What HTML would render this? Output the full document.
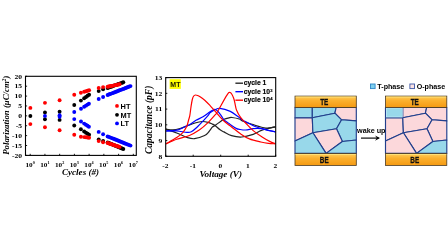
<!DOCTYPE html><html><head><meta charset="utf-8"><title>figure</title><style>html,body{margin:0;padding:0;background:#fff}svg{display:block;filter:blur(0.3px)}</style></head><body><svg width="448" height="252" viewBox="0 0 448 252">
<rect width="448" height="252" fill="#fff"/>
<defs><linearGradient id="og" x1="0" y1="0" x2="0" y2="1"><stop offset="0" stop-color="#ffcf5c"/><stop offset="0.4" stop-color="#fbb02e"/><stop offset="1" stop-color="#f59a12"/></linearGradient></defs>
<g id="p1">
<circle cx="30.35" cy="116.00" r="1.95" fill="#000"/><circle cx="44.95" cy="112.40" r="1.95" fill="#000"/><circle cx="59.60" cy="111.70" r="1.95" fill="#000"/><circle cx="74.25" cy="105.00" r="1.95" fill="#000"/><circle cx="80.90" cy="100.60" r="1.95" fill="#000"/><circle cx="84.18" cy="98.24" r="1.95" fill="#000"/><circle cx="85.98" cy="96.94" r="1.95" fill="#000"/><circle cx="87.62" cy="95.76" r="1.95" fill="#000"/><circle cx="89.10" cy="94.70" r="1.95" fill="#000"/><circle cx="98.70" cy="91.10" r="1.95" fill="#000"/><circle cx="103.10" cy="89.20" r="1.95" fill="#000"/><circle cx="107.60" cy="88.00" r="1.95" fill="#000"/><circle cx="108.81" cy="87.56" r="1.95" fill="#000"/><circle cx="110.02" cy="87.12" r="1.95" fill="#000"/><circle cx="111.22" cy="86.68" r="1.95" fill="#000"/><circle cx="112.43" cy="86.25" r="1.95" fill="#000"/><circle cx="113.64" cy="85.81" r="1.95" fill="#000"/><circle cx="114.85" cy="85.37" r="1.95" fill="#000"/><circle cx="116.05" cy="84.93" r="1.95" fill="#000"/><circle cx="117.26" cy="84.49" r="1.95" fill="#000"/><circle cx="118.47" cy="84.05" r="1.95" fill="#000"/><circle cx="119.68" cy="83.62" r="1.95" fill="#000"/><circle cx="120.88" cy="83.18" r="1.95" fill="#000"/><circle cx="122.09" cy="82.74" r="1.95" fill="#000"/><circle cx="123.30" cy="82.30" r="1.95" fill="#000"/><circle cx="44.95" cy="119.30" r="1.95" fill="#000"/><circle cx="59.60" cy="119.90" r="1.95" fill="#000"/><circle cx="74.25" cy="125.50" r="1.95" fill="#000"/><circle cx="80.90" cy="129.30" r="1.95" fill="#000"/><circle cx="84.18" cy="131.50" r="1.95" fill="#000"/><circle cx="85.98" cy="132.71" r="1.95" fill="#000"/><circle cx="87.62" cy="133.81" r="1.95" fill="#000"/><circle cx="89.10" cy="134.80" r="1.95" fill="#000"/><circle cx="98.70" cy="139.50" r="1.95" fill="#000"/><circle cx="103.10" cy="141.00" r="1.95" fill="#000"/><circle cx="107.60" cy="142.50" r="1.95" fill="#000"/><circle cx="108.81" cy="143.00" r="1.95" fill="#000"/><circle cx="110.02" cy="143.50" r="1.95" fill="#000"/><circle cx="111.22" cy="144.00" r="1.95" fill="#000"/><circle cx="112.43" cy="144.50" r="1.95" fill="#000"/><circle cx="113.64" cy="145.00" r="1.95" fill="#000"/><circle cx="114.85" cy="145.50" r="1.95" fill="#000"/><circle cx="116.05" cy="146.00" r="1.95" fill="#000"/><circle cx="117.26" cy="146.50" r="1.95" fill="#000"/><circle cx="118.47" cy="147.00" r="1.95" fill="#000"/><circle cx="119.68" cy="147.50" r="1.95" fill="#000"/><circle cx="120.88" cy="148.00" r="1.95" fill="#000"/><circle cx="122.09" cy="148.50" r="1.95" fill="#000"/><circle cx="123.30" cy="149.00" r="1.95" fill="#000"/>
<circle cx="30.35" cy="107.90" r="1.95" fill="#f00"/><circle cx="44.95" cy="102.85" r="1.95" fill="#f00"/><circle cx="59.60" cy="100.20" r="1.95" fill="#f00"/><circle cx="74.25" cy="94.70" r="1.95" fill="#f00"/><circle cx="80.90" cy="92.70" r="1.95" fill="#f00"/><circle cx="84.18" cy="91.74" r="1.95" fill="#f00"/><circle cx="85.98" cy="91.21" r="1.95" fill="#f00"/><circle cx="87.62" cy="90.73" r="1.95" fill="#f00"/><circle cx="89.10" cy="90.30" r="1.95" fill="#f00"/><circle cx="98.70" cy="88.00" r="1.95" fill="#f00"/><circle cx="103.10" cy="87.10" r="1.95" fill="#f00"/><circle cx="107.60" cy="86.70" r="1.95" fill="#f00"/><circle cx="108.69" cy="86.48" r="1.95" fill="#f00"/><circle cx="109.78" cy="86.26" r="1.95" fill="#f00"/><circle cx="110.87" cy="86.05" r="1.95" fill="#f00"/><circle cx="111.96" cy="85.83" r="1.95" fill="#f00"/><circle cx="113.05" cy="85.61" r="1.95" fill="#f00"/><circle cx="114.15" cy="85.39" r="1.95" fill="#f00"/><circle cx="115.24" cy="85.17" r="1.95" fill="#f00"/><circle cx="116.33" cy="84.95" r="1.95" fill="#f00"/><circle cx="117.42" cy="84.74" r="1.95" fill="#f00"/><circle cx="118.51" cy="84.52" r="1.95" fill="#f00"/><circle cx="119.60" cy="84.30" r="1.95" fill="#f00"/><circle cx="30.35" cy="124.10" r="1.95" fill="#f00"/><circle cx="44.95" cy="127.30" r="1.95" fill="#f00"/><circle cx="59.60" cy="130.20" r="1.95" fill="#f00"/><circle cx="74.25" cy="134.80" r="1.95" fill="#f00"/><circle cx="80.90" cy="136.70" r="1.95" fill="#f00"/><circle cx="84.18" cy="137.10" r="1.95" fill="#f00"/><circle cx="85.98" cy="137.32" r="1.95" fill="#f00"/><circle cx="87.62" cy="137.52" r="1.95" fill="#f00"/><circle cx="89.10" cy="137.70" r="1.95" fill="#f00"/><circle cx="98.70" cy="141.10" r="1.95" fill="#f00"/><circle cx="103.10" cy="142.20" r="1.95" fill="#f00"/><circle cx="107.60" cy="143.00" r="1.95" fill="#f00"/><circle cx="108.69" cy="143.35" r="1.95" fill="#f00"/><circle cx="109.78" cy="143.71" r="1.95" fill="#f00"/><circle cx="110.87" cy="144.06" r="1.95" fill="#f00"/><circle cx="111.96" cy="144.42" r="1.95" fill="#f00"/><circle cx="113.05" cy="144.77" r="1.95" fill="#f00"/><circle cx="114.15" cy="145.13" r="1.95" fill="#f00"/><circle cx="115.24" cy="145.48" r="1.95" fill="#f00"/><circle cx="116.33" cy="145.84" r="1.95" fill="#f00"/><circle cx="117.42" cy="146.19" r="1.95" fill="#f00"/><circle cx="118.51" cy="146.55" r="1.95" fill="#f00"/><circle cx="119.60" cy="146.90" r="1.95" fill="#f00"/>
<circle cx="44.95" cy="115.90" r="1.95" fill="#00f"/><circle cx="59.60" cy="115.20" r="1.95" fill="#00f"/><circle cx="59.60" cy="116.80" r="1.95" fill="#00f"/><circle cx="74.25" cy="112.00" r="1.95" fill="#00f"/><circle cx="74.25" cy="119.10" r="1.95" fill="#00f"/><circle cx="81.00" cy="108.80" r="1.95" fill="#00f"/><circle cx="84.16" cy="106.76" r="1.95" fill="#00f"/><circle cx="85.90" cy="105.64" r="1.95" fill="#00f"/><circle cx="87.48" cy="104.62" r="1.95" fill="#00f"/><circle cx="88.90" cy="103.70" r="1.95" fill="#00f"/><circle cx="81.00" cy="121.50" r="1.95" fill="#00f"/><circle cx="84.16" cy="123.58" r="1.95" fill="#00f"/><circle cx="85.90" cy="124.72" r="1.95" fill="#00f"/><circle cx="87.48" cy="125.76" r="1.95" fill="#00f"/><circle cx="88.90" cy="126.70" r="1.95" fill="#00f"/><circle cx="98.70" cy="99.00" r="1.95" fill="#00f"/><circle cx="103.10" cy="97.00" r="1.95" fill="#00f"/><circle cx="107.60" cy="95.00" r="1.95" fill="#00f"/><circle cx="108.81" cy="94.53" r="1.95" fill="#00f"/><circle cx="110.01" cy="94.06" r="1.95" fill="#00f"/><circle cx="111.22" cy="93.59" r="1.95" fill="#00f"/><circle cx="112.42" cy="93.13" r="1.95" fill="#00f"/><circle cx="113.63" cy="92.66" r="1.95" fill="#00f"/><circle cx="114.83" cy="92.19" r="1.95" fill="#00f"/><circle cx="116.04" cy="91.72" r="1.95" fill="#00f"/><circle cx="117.24" cy="91.25" r="1.95" fill="#00f"/><circle cx="118.45" cy="90.78" r="1.95" fill="#00f"/><circle cx="119.65" cy="90.32" r="1.95" fill="#00f"/><circle cx="120.86" cy="89.85" r="1.95" fill="#00f"/><circle cx="122.06" cy="89.38" r="1.95" fill="#00f"/><circle cx="123.27" cy="88.91" r="1.95" fill="#00f"/><circle cx="124.47" cy="88.44" r="1.95" fill="#00f"/><circle cx="125.68" cy="87.97" r="1.95" fill="#00f"/><circle cx="126.88" cy="87.51" r="1.95" fill="#00f"/><circle cx="128.09" cy="87.04" r="1.95" fill="#00f"/><circle cx="129.29" cy="86.57" r="1.95" fill="#00f"/><circle cx="130.50" cy="86.10" r="1.95" fill="#00f"/><circle cx="98.70" cy="131.90" r="1.95" fill="#00f"/><circle cx="103.10" cy="134.20" r="1.95" fill="#00f"/><circle cx="107.60" cy="136.40" r="1.95" fill="#00f"/><circle cx="108.81" cy="136.88" r="1.95" fill="#00f"/><circle cx="110.01" cy="137.37" r="1.95" fill="#00f"/><circle cx="111.22" cy="137.85" r="1.95" fill="#00f"/><circle cx="112.42" cy="138.34" r="1.95" fill="#00f"/><circle cx="113.63" cy="138.82" r="1.95" fill="#00f"/><circle cx="114.83" cy="139.31" r="1.95" fill="#00f"/><circle cx="116.04" cy="139.79" r="1.95" fill="#00f"/><circle cx="117.24" cy="140.27" r="1.95" fill="#00f"/><circle cx="118.45" cy="140.76" r="1.95" fill="#00f"/><circle cx="119.65" cy="141.24" r="1.95" fill="#00f"/><circle cx="120.86" cy="141.73" r="1.95" fill="#00f"/><circle cx="122.06" cy="142.21" r="1.95" fill="#00f"/><circle cx="123.27" cy="142.69" r="1.95" fill="#00f"/><circle cx="124.47" cy="143.18" r="1.95" fill="#00f"/><circle cx="125.68" cy="143.66" r="1.95" fill="#00f"/><circle cx="126.88" cy="144.15" r="1.95" fill="#00f"/><circle cx="128.09" cy="144.63" r="1.95" fill="#00f"/><circle cx="129.29" cy="145.12" r="1.95" fill="#00f"/><circle cx="130.50" cy="145.60" r="1.95" fill="#00f"/>
<rect x="25.5" y="76.3" width="110.80000000000001" height="79.10000000000001" fill="none" stroke="#000" stroke-width="1.1"/>
<path d="M25.5 76.30h1.6M25.5 86.19h1.6M25.5 96.08h1.6M25.5 105.96h1.6M25.5 115.85h1.6M25.5 125.74h1.6M25.5 135.62h1.6M25.5 145.51h1.6M25.5 155.40h1.6M30.20 155.4v-1.6M44.93 155.4v-1.6M59.66 155.4v-1.6M74.39 155.4v-1.6M89.12 155.4v-1.6M103.85 155.4v-1.6M118.58 155.4v-1.6M133.31 155.4v-1.6" stroke="#000" stroke-width="0.9" fill="none"/>
<g font-family="'Liberation Serif', serif" font-weight="bold" font-size="6.9" text-anchor="end" fill="#000">
<text transform="translate(22.1,78.55) scale(1.1,1)">20</text>
<text transform="translate(22.1,88.44) scale(1.1,1)">15</text>
<text transform="translate(22.1,98.33) scale(1.1,1)">10</text>
<text transform="translate(22.1,108.21) scale(1.1,1)">5</text>
<text transform="translate(22.1,118.10) scale(1.1,1)">0</text>
<text transform="translate(22.1,127.99) scale(1.1,1)">-5</text>
<text transform="translate(22.1,137.88) scale(1.1,1)">-10</text>
<text transform="translate(22.1,147.76) scale(1.1,1)">-15</text>
<text transform="translate(22.1,157.65) scale(1.1,1)">-20</text>
</g>
<g font-family="'Liberation Serif', serif" font-weight="bold" font-size="6.6" text-anchor="middle" fill="#000">
<text transform="translate(30.10,166.7) scale(1.1,1)">10<tspan dy="-2.9" font-size="3.8">0</tspan></text>
<text transform="translate(44.83,166.7) scale(1.1,1)">10<tspan dy="-2.9" font-size="3.8">1</tspan></text>
<text transform="translate(59.56,166.7) scale(1.1,1)">10<tspan dy="-2.9" font-size="3.8">2</tspan></text>
<text transform="translate(74.29,166.7) scale(1.1,1)">10<tspan dy="-2.9" font-size="3.8">3</tspan></text>
<text transform="translate(89.02,166.7) scale(1.1,1)">10<tspan dy="-2.9" font-size="3.8">4</tspan></text>
<text transform="translate(103.75,166.7) scale(1.1,1)">10<tspan dy="-2.9" font-size="3.8">5</tspan></text>
<text transform="translate(118.48,166.7) scale(1.1,1)">10<tspan dy="-2.9" font-size="3.8">6</tspan></text>
<text transform="translate(133.21,166.7) scale(1.1,1)">10<tspan dy="-2.9" font-size="3.8">7</tspan></text>
</g>
<text transform="translate(9.0,115.2) rotate(-90)" font-family="'Liberation Serif', serif" font-weight="bold" font-style="italic" font-size="8.8" text-anchor="middle">Polarization (μC/cm<tspan dy="-2.8" font-size="5.4">2</tspan><tspan dy="2.8">)</tspan></text>
<text x="80.5" y="175" font-family="'Liberation Serif', serif" font-weight="bold" font-style="italic" font-size="9.1" text-anchor="middle">Cycles (#)</text>
<g font-family="'Liberation Sans', sans-serif" font-weight="bold" font-size="7.4" fill="#000">
<circle cx="117" cy="105.9" r="1.9" fill="#f00"/><text x="120.6" y="108.85">HT</text>
<circle cx="117" cy="114.8" r="1.9" fill="#000"/><text x="120.6" y="117.75">MT</text>
<circle cx="117" cy="123.4" r="1.9" fill="#00f"/><text x="120.6" y="126.35">LT</text>
</g>
</g>
<g id="p2">
<clipPath id="c2"><rect x="165.7" y="77.6" width="110.0" height="78.70000000000002"/></clipPath>
<g clip-path="url(#c2)" fill="none" stroke-width="1.2" stroke-linejoin="round">
<path d="M165.70 129.10C166.90 129.22 170.52 129.90 172.90 129.80C175.28 129.70 177.67 129.13 180.00 128.50C182.33 127.87 184.40 126.92 186.90 126.00C189.40 125.08 192.47 123.75 195.00 123.00C197.53 122.25 199.93 121.62 202.10 121.50C204.27 121.38 206.27 121.87 208.00 122.30C209.73 122.73 211.37 123.60 212.50 124.10C213.63 124.60 213.53 124.35 214.80 125.30C216.07 126.25 218.57 128.70 220.10 129.80C221.63 130.90 222.08 130.92 224.00 131.90C225.92 132.88 228.63 134.85 231.60 135.70C234.57 136.55 238.20 137.22 241.80 137.00C245.40 136.78 250.03 135.47 253.20 134.40C256.37 133.33 258.27 131.60 260.80 130.60C263.33 129.60 265.95 129.03 268.40 128.40C270.85 127.77 274.32 127.07 275.50 126.80" stroke="#222"/>
<path d="M165.70 129.10C167.53 129.75 173.17 131.62 176.70 133.00C180.23 134.38 183.93 136.45 186.90 137.40C189.87 138.35 191.55 139.02 194.50 138.70C197.45 138.38 202.23 136.62 204.60 135.50C206.97 134.38 207.42 133.38 208.70 132.00C209.98 130.62 211.25 128.30 212.30 127.20C213.35 126.10 213.62 126.35 215.00 125.40C216.38 124.45 219.10 122.53 220.60 121.50C222.10 120.47 222.60 119.82 224.00 119.20C225.40 118.58 227.67 118.08 229.00 117.80C230.33 117.52 230.30 117.30 232.00 117.50C233.70 117.70 237.37 118.38 239.20 119.00C241.03 119.62 240.87 120.32 243.00 121.20C245.13 122.08 248.18 123.15 252.00 124.30C255.82 125.45 261.98 127.68 265.90 128.10C269.82 128.52 273.90 127.02 275.50 126.80" stroke="#222"/>
<path d="M165.70 131.00C167.53 130.87 173.58 130.87 176.70 130.20C179.82 129.53 182.28 127.92 184.40 127.00C186.52 126.08 187.47 125.82 189.40 124.70C191.33 123.58 193.73 121.62 196.00 120.30C198.27 118.98 200.72 118.18 203.00 116.80C205.28 115.42 208.12 113.10 209.70 112.00C211.28 110.90 211.62 110.62 212.50 110.20C213.38 109.78 214.08 109.28 215.00 109.50C215.92 109.72 216.93 110.43 218.00 111.50C219.07 112.57 220.40 114.52 221.40 115.90C222.40 117.28 222.73 118.53 224.00 119.80C225.27 121.07 227.73 122.55 229.00 123.50C230.27 124.45 230.33 124.65 231.60 125.50C232.87 126.35 235.33 127.97 236.60 128.60C237.87 129.23 237.70 129.07 239.20 129.30C240.70 129.53 243.27 130.10 245.60 130.00C247.93 129.90 250.67 128.92 253.20 128.70C255.73 128.48 258.33 128.43 260.80 128.70C263.27 128.97 265.55 129.77 268.00 130.30C270.45 130.83 274.25 131.63 275.50 131.90" stroke="#00f"/>
<path d="M165.70 131.00C167.53 131.00 173.17 130.78 176.70 131.00C180.23 131.22 184.47 132.18 186.90 132.30C189.33 132.42 189.62 132.55 191.30 131.70C192.98 130.85 194.78 129.27 197.00 127.20C199.22 125.13 202.70 121.30 204.60 119.30C206.50 117.30 207.50 116.28 208.40 115.20C209.30 114.12 208.90 113.70 210.00 112.80C211.10 111.90 213.33 110.55 215.00 109.80C216.67 109.05 217.45 108.03 220.00 108.30C222.55 108.57 227.32 110.03 230.30 111.40C233.28 112.77 235.78 115.00 237.90 116.50C240.02 118.00 241.52 119.45 243.00 120.40C244.48 121.35 244.68 121.13 246.80 122.20C248.92 123.27 252.30 125.50 255.70 126.80C259.10 128.10 263.90 129.15 267.20 130.00C270.50 130.85 274.12 131.58 275.50 131.90" stroke="#00f"/>
<path d="M165.70 144.00C167.53 142.93 173.82 139.55 176.70 137.60C179.58 135.65 181.30 134.23 183.00 132.30C184.70 130.37 185.97 128.05 186.90 126.00C187.83 123.95 188.12 121.72 188.60 120.00C189.08 118.28 189.40 117.88 189.80 115.70C190.20 113.52 190.58 109.60 191.00 106.90C191.42 104.20 191.85 101.32 192.30 99.50C192.75 97.68 193.17 96.75 193.70 96.00C194.23 95.25 194.85 95.08 195.50 95.00C196.15 94.92 196.85 95.20 197.60 95.50C198.35 95.80 198.77 95.97 200.00 96.80C201.23 97.63 203.32 99.03 205.00 100.50C206.68 101.97 208.40 103.80 210.10 105.60C211.80 107.40 212.90 108.73 215.20 111.30C217.50 113.87 221.17 118.40 223.90 121.00C226.63 123.60 228.83 124.77 231.60 126.90C234.37 129.03 237.53 131.80 240.50 133.80C243.47 135.80 246.02 137.53 249.40 138.90C252.78 140.27 257.63 141.27 260.80 142.00C263.97 142.73 265.95 143.00 268.40 143.30C270.85 143.60 274.32 143.72 275.50 143.80" stroke="#f00"/>
<path d="M165.70 144.00C167.53 143.22 172.75 140.72 176.70 139.30C180.65 137.88 185.58 137.08 189.40 135.50C193.22 133.92 196.63 131.82 199.60 129.80C202.57 127.78 204.67 125.83 207.20 123.40C209.73 120.97 213.12 117.10 214.80 115.20C216.48 113.30 215.30 115.30 217.30 112.00C219.30 108.70 224.65 98.65 226.80 95.40C228.95 92.15 229.07 92.07 230.20 92.50C231.33 92.93 232.73 95.82 233.60 98.00C234.47 100.18 234.90 103.57 235.40 105.60C235.90 107.63 235.77 108.27 236.60 110.20C237.43 112.13 238.90 115.07 240.40 117.20C241.90 119.33 243.47 120.77 245.60 123.00C247.73 125.23 250.45 128.27 253.20 130.60C255.95 132.93 259.35 135.20 262.10 137.00C264.85 138.80 267.47 140.27 269.70 141.40C271.93 142.53 274.53 143.40 275.50 143.80" stroke="#f00"/>
</g>
<rect x="165.7" y="77.6" width="110.0" height="78.70000000000002" fill="none" stroke="#000" stroke-width="1.1"/>
<path d="M165.7 77.60h1.6M165.7 93.34h1.6M165.7 109.08h1.6M165.7 124.82h1.6M165.7 140.56h1.6M165.7 156.30h1.6M165.70 156.3v-1.6M193.20 156.3v-1.6M220.70 156.3v-1.6M248.20 156.3v-1.6M275.70 156.3v-1.6" stroke="#000" stroke-width="0.9" fill="none"/>
<g font-family="'Liberation Serif', serif" font-weight="bold" font-size="7.1" text-anchor="end" fill="#000">
<text transform="translate(162.2,79.80) scale(1.06,1)">13</text>
<text transform="translate(162.2,95.54) scale(1.06,1)">12</text>
<text transform="translate(162.2,111.28) scale(1.06,1)">11</text>
<text transform="translate(162.2,127.02) scale(1.06,1)">10</text>
<text transform="translate(162.2,142.76) scale(1.06,1)">9</text>
<text transform="translate(162.2,158.50) scale(1.06,1)">8</text>
</g>
<g font-family="'Liberation Serif', serif" font-weight="bold" font-size="7.0" text-anchor="middle" fill="#000">
<text transform="translate(165.40,167.8) scale(1.06,1)">-2</text>
<text transform="translate(192.90,167.8) scale(1.06,1)">-1</text>
<text transform="translate(220.40,167.8) scale(1.06,1)">0</text>
<text transform="translate(247.90,167.8) scale(1.06,1)">1</text>
<text transform="translate(275.40,167.8) scale(1.06,1)">2</text>
</g>
<text transform="translate(152.1,119.8) rotate(-90)" font-family="'Liberation Serif', serif" font-weight="bold" font-style="italic" font-size="9.5" text-anchor="middle">Capacitance (pF)</text>
<text x="220.7" y="176.8" font-family="'Liberation Serif', serif" font-weight="bold" font-style="italic" font-size="9.2" text-anchor="middle">Voltage (V)</text>
<rect x="169.6" y="79.2" width="11.2" height="9.7" fill="#ffff00"/>
<text x="175.4" y="87.2" font-family="'Liberation Sans', sans-serif" font-weight="bold" font-size="7.0" text-anchor="middle" fill="#1a1a00">MT</text>
<g font-family="'Liberation Sans', sans-serif" font-weight="bold" font-size="6.8" fill="#000">
<path d="M235.4 83.2H243" stroke="#222" stroke-width="1.35"/><text x="243.7" y="85.40" stroke="#000" stroke-width="0.15">cycle 1</text>
<path d="M235.4 91.7H243" stroke="#00f" stroke-width="1.35"/><text x="243.7" y="93.90" stroke="#000" stroke-width="0.15">cycle 10<tspan dy="-2.3" font-size="4.1">3</tspan></text>
<path d="M235.4 100.2H243" stroke="#f00" stroke-width="1.35"/><text x="243.7" y="102.40" stroke="#000" stroke-width="0.15">cycle 10<tspan dy="-2.3" font-size="4.1">4</tspan></text>
</g>
</g>
<g id="p3">
<g transform="translate(0,0)"><polygon points="295.0,107.4 312.3,107.4 312.3,117.8 295.0,117.8" fill="#98d8ea" stroke="#213f8c" stroke-width="1.15" stroke-linejoin="round"/><polygon points="312.3,107.4 336.2,107.4 334.9,113.2 312.3,117.8" fill="#98d8ea" stroke="#213f8c" stroke-width="1.15" stroke-linejoin="round"/><polygon points="336.2,107.4 356.3,107.4 356.3,120.9 341.6,119.8 334.9,113.2" fill="#fcd8db" stroke="#213f8c" stroke-width="1.15" stroke-linejoin="round"/><polygon points="295.0,117.8 312.3,117.8 312.9,132.8 295.0,141.1" fill="#fcd8db" stroke="#213f8c" stroke-width="1.15" stroke-linejoin="round"/><polygon points="312.3,117.8 334.9,113.2 341.6,119.8 336.5,128.8 312.9,132.8" fill="#98d8ea" stroke="#213f8c" stroke-width="1.15" stroke-linejoin="round"/><polygon points="341.6,119.8 356.3,120.9 356.3,140.0 342.4,141.5 336.5,128.8" fill="#98d8ea" stroke="#213f8c" stroke-width="1.15" stroke-linejoin="round"/><polygon points="312.9,132.8 336.5,128.8 342.4,141.5 326.1,153.4" fill="#fcd8db" stroke="#213f8c" stroke-width="1.15" stroke-linejoin="round"/><polygon points="295.0,141.1 312.9,132.8 326.1,153.4 295.0,153.4" fill="#98d8ea" stroke="#213f8c" stroke-width="1.15" stroke-linejoin="round"/><polygon points="326.1,153.4 342.4,141.5 356.3,140.0 356.3,153.4" fill="#98d8ea" stroke="#213f8c" stroke-width="1.15" stroke-linejoin="round"/><rect x="295.0" y="96.1" width="61.30000000000001" height="11.300000000000011" fill="url(#og)" stroke="#4b3a22" stroke-width="0.8"/><path d="M295.6 97.0H355.7" stroke="#ffe27a" stroke-width="0.9" fill="none"/><text transform="translate(324.25,104.75) scale(0.78,1)" font-family="'Liberation Sans', sans-serif" font-weight="bold" font-size="8.2" text-anchor="middle" fill="#111" stroke="#111" stroke-width="0.25">TE</text><rect x="295.0" y="153.6" width="61.30000000000001" height="11.800000000000011" fill="url(#og)" stroke="#4b3a22" stroke-width="0.8"/><path d="M295.6 154.5H355.7" stroke="#ffe27a" stroke-width="0.9" fill="none"/><text transform="translate(324.25,162.50) scale(0.78,1)" font-family="'Liberation Sans', sans-serif" font-weight="bold" font-size="8.2" text-anchor="middle" fill="#111" stroke="#111" stroke-width="0.25">BE</text></g>
<g transform="translate(90.5,0)"><polygon points="295.0,107.4 312.3,107.4 312.3,117.8 295.0,117.8" fill="#98d8ea" stroke="#213f8c" stroke-width="1.15" stroke-linejoin="round"/><polygon points="312.3,107.4 336.2,107.4 334.9,113.2 312.3,117.8" fill="#fcd8db" stroke="#213f8c" stroke-width="1.15" stroke-linejoin="round"/><polygon points="336.2,107.4 356.3,107.4 356.3,120.9 341.6,119.8 334.9,113.2" fill="#fcd8db" stroke="#213f8c" stroke-width="1.15" stroke-linejoin="round"/><polygon points="295.0,117.8 312.3,117.8 312.9,132.8 295.0,141.1" fill="#fcd8db" stroke="#213f8c" stroke-width="1.15" stroke-linejoin="round"/><polygon points="312.3,117.8 334.9,113.2 341.6,119.8 336.5,128.8 312.9,132.8" fill="#fcd8db" stroke="#213f8c" stroke-width="1.15" stroke-linejoin="round"/><polygon points="341.6,119.8 356.3,120.9 356.3,140.0 342.4,141.5 336.5,128.8" fill="#fcd8db" stroke="#213f8c" stroke-width="1.15" stroke-linejoin="round"/><polygon points="312.9,132.8 336.5,128.8 342.4,141.5 326.1,153.4" fill="#fcd8db" stroke="#213f8c" stroke-width="1.15" stroke-linejoin="round"/><polygon points="295.0,141.1 312.9,132.8 326.1,153.4 295.0,153.4" fill="#fcd8db" stroke="#213f8c" stroke-width="1.15" stroke-linejoin="round"/><polygon points="326.1,153.4 342.4,141.5 356.3,140.0 356.3,153.4" fill="#98d8ea" stroke="#213f8c" stroke-width="1.15" stroke-linejoin="round"/><rect x="295.9" y="108.0" width="16.00" height="9.00" fill="none" stroke="#c4effa" stroke-width="0.7"/><rect x="295.0" y="96.1" width="61.30000000000001" height="11.300000000000011" fill="url(#og)" stroke="#4b3a22" stroke-width="0.8"/><path d="M295.6 97.0H355.7" stroke="#ffe27a" stroke-width="0.9" fill="none"/><text transform="translate(324.25,104.75) scale(0.78,1)" font-family="'Liberation Sans', sans-serif" font-weight="bold" font-size="8.2" text-anchor="middle" fill="#111" stroke="#111" stroke-width="0.25">TE</text><rect x="295.0" y="153.6" width="61.30000000000001" height="11.800000000000011" fill="url(#og)" stroke="#4b3a22" stroke-width="0.8"/><path d="M295.6 154.5H355.7" stroke="#ffe27a" stroke-width="0.9" fill="none"/><text transform="translate(324.25,162.50) scale(0.78,1)" font-family="'Liberation Sans', sans-serif" font-weight="bold" font-size="8.2" text-anchor="middle" fill="#111" stroke="#111" stroke-width="0.25">BE</text></g>
<text x="371.3" y="132.6" font-family="'Liberation Sans', sans-serif" font-weight="bold" font-size="7.2" text-anchor="middle" fill="#000">wake up</text>
<path d="M361 138.1H378.6" stroke="#000" stroke-width="1.15" fill="none"/><path d="M375.0 135.4L380.0 138.1L375.0 140.8L376.9 138.1Z" fill="#000"/>
<rect x="370.5" y="84" width="4.6" height="4.6" fill="#7fd0ee" stroke="#2e86c8" stroke-width="0.9"/>
<rect x="409.9" y="84" width="4.6" height="4.6" fill="#fbe3e4" stroke="#3a56a6" stroke-width="0.9"/>
<g font-family="'Liberation Sans', sans-serif" font-weight="bold" font-size="7.15" fill="#000"><text x="377.3" y="88.6">T-phase</text><text x="416.7" y="88.6">O-phase</text></g>
</g>
</svg></body></html>
